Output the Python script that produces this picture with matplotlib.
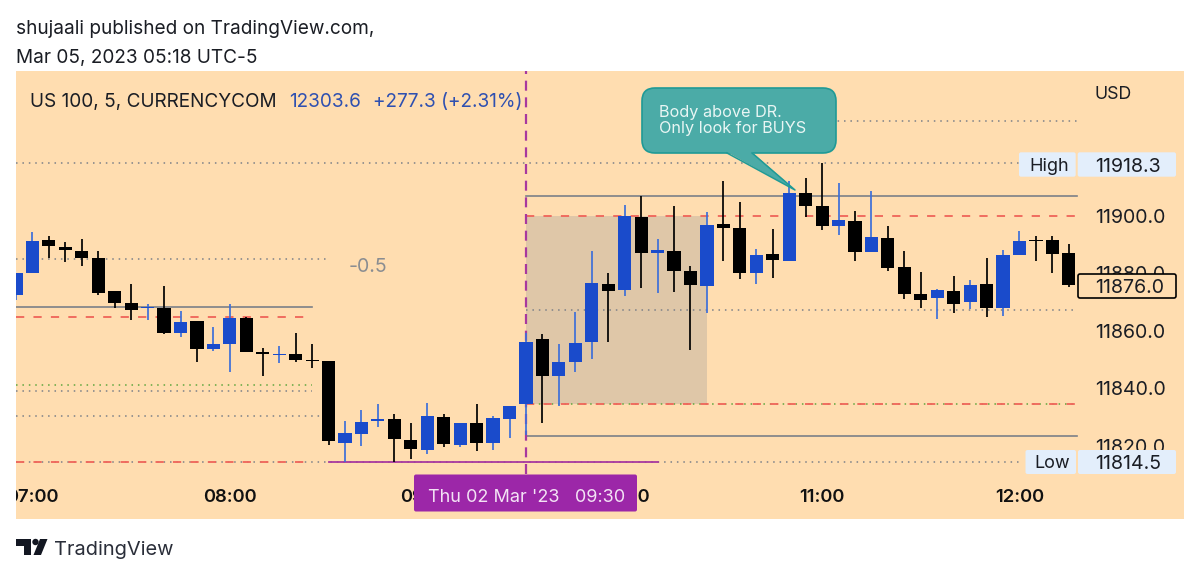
import matplotlib
matplotlib.use("Agg")
import matplotlib.pyplot as plt
from matplotlib.patches import FancyBboxPatch, Polygon, Circle, Rectangle
from matplotlib.transforms import Affine2D

plt.rcParams['font.family'] = ['Inter', 'DejaVu Sans']

# --- data: 5-minute candles, index 0 = 07:00, index -1 = 06:55 -------------------
first_index = -1
opens = [11872.6, 11880.1, 11891.5, 11889.2, 11887.7, 11885.3, 11874.0, 11869.7, 11867.9, 11867.9,
         11859.2, 11863.5, 11853.7, 11855.4, 11864.4, 11852.8, 11851.7, 11852.1, 11849.9, 11849.5,
         11821.0, 11824.1, 11828.6, 11829.3, 11822.1, 11818.5, 11830.1, 11820.5, 11828.1, 11821.0,
         11829.4, 11834.6, 11857.2, 11844.3, 11849.1, 11856.1, 11876.5, 11874.4, 11899.7, 11887.2,
         11887.9, 11881.0, 11875.8, 11897.2, 11895.8, 11880.2, 11886.8, 11884.3, 11907.8, 11903.4,
         11896.6, 11898.3, 11887.4, 11892.2, 11882.2, 11872.8, 11871.6, 11873.8, 11870.2, 11876.4,
         11867.9, 11886.3, 11891.8, 11891.7, 11887.1]
closes = [11880.3, 11891.3, 11889.6, 11888.2, 11885.3, 11873.1, 11869.7, 11867.4, 11868.5, 11859.2,
          11863.2, 11853.7, 11855.5, 11864.4, 11852.8, 11852.0, 11852.1, 11849.8, 11849.6, 11821.6,
          11824.5, 11828.5, 11829.5, 11822.3, 11818.9, 11830.3, 11820.7, 11827.9, 11821.1, 11829.6,
          11833.9, 11856.2, 11844.5, 11849.3, 11855.9, 11876.7, 11873.9, 11899.9, 11887.1, 11888.1,
          11880.9, 11875.9, 11896.9, 11895.9, 11880.2, 11886.5, 11884.8, 11907.8, 11903.6, 11896.6,
          11898.5, 11887.6, 11892.5, 11881.8, 11872.8, 11870.8, 11874.3, 11869.4, 11876.1, 11867.9,
          11886.5, 11891.4, 11891.3, 11886.9, 11876.0]
highs = [11880.3, 11894.3, 11893.0, 11890.9, 11891.9, 11887.7, 11874.0, 11876.4, 11869.3, 11875.8,
         11866.9, 11863.5, 11861.5, 11869.4, 11864.9, 11854.0, 11854.9, 11859.4, 11855.6, 11849.5,
         11828.6, 11832.5, 11834.5, 11831.0, 11828.1, 11835.1, 11831.0, 11827.9, 11834.5, 11830.4,
         11833.9, 11859.4, 11859.0, 11855.6, 11866.7, 11887.8, 11880.1, 11903.8, 11907.0, 11892.0,
         11903.6, 11882.7, 11901.3, 11912.3, 11904.8, 11888.4, 11895.6, 11912.3, 11913.2, 11918.3,
         11911.6, 11901.7, 11908.7, 11896.4, 11887.9, 11880.5, 11874.6, 11879.0, 11877.7, 11885.5,
         11888.3, 11894.9, 11893.1, 11893.1, 11890.4]
lows = [11870.8, 11880.1, 11885.5, 11883.9, 11882.7, 11872.6, 11868.1, 11863.8, 11863.8, 11859.1,
        11857.9, 11849.1, 11853.1, 11845.8, 11852.7, 11844.2, 11848.8, 11849.3, 11847.0, 11820.5,
        11814.5, 11820.0, 11826.5, 11814.5, 11815.4, 11817.2, 11819.5, 11819.8, 11818.3, 11818.6,
        11822.9, 11823.8, 11827.9, 11834.0, 11845.7, 11850.3, 11856.3, 11872.3, 11875.1, 11873.3,
        11873.7, 11853.4, 11866.2, 11884.3, 11878.1, 11876.5, 11878.3, 11884.3, 11899.8, 11895.1,
        11893.5, 11884.3, 11887.4, 11880.9, 11871.1, 11868.0, 11864.0, 11866.4, 11867.7, 11864.9,
        11865.1, 11886.3, 11884.3, 11880.3, 11875.2]

y_ticks = [11820.0, 11840.0, 11860.0, 11880.0, 11900.0]
x_ticks = [0, 12, 24, 36, 48, 60]
x_labels = ['07:00', '08:00', '09:00', '10:00', '11:00', '12:00']

# horizontal levels: (price, start index, end index)
grey_dotted = [(11885.1, -1, 18), (11839.1, -1, 17), (11830.4, -1, 18),
               (11867.3, 30, 63.5), (11933.0, 40, 63.5),
               (11918.3, -1, 60), (11814.5, -1, 60)]
green_dotted = [(11841.2, -1, 17), (11834.6, 30, 63.5)]
grey_solid = [(11868.5, -1, 17), (11907.1, 30, 63.5), (11823.5, 30, 63.5)]
red_dashed = [(11864.9, -1, 16.5), (11814.5, -1, 16.5), (11900.0, 30, 63.5), (11834.6, 30, 63.5)]
range_box = (30, 41, 11834.6, 11900.0)
session_low = (11814.5, 18, 38)
session_index = 30
high_value, low_value, last_value = 11918.3, 11814.5, 11876.0

# --- colours -----------------------------------------------------------------
BG = '#FFDDB0'
BLUE, BLUE_WICK, BLACK = '#1A4BCB', '#3D6FD9', '#000000'
GREY, RED, GREEN, PURPLE = '#7C8088', '#F0685C', '#5FA63E', '#A8389F'
LABEL_BG, INK = '#E3EEFB', '#1A1D24'

fig = plt.figure(figsize=(12, 5.76), dpi=100, facecolor='white')
px = Affine2D().scale(1 / 1200, -1 / 576).translate(0, 1) + fig.transFigure
ax = fig.add_axes([15.5 / 1200, 1 - 519.3 / 576, (1184 - 15.5) / 1200, (519.3 - 71) / 576], facecolor=BG)
ax.set_xlim(-1.03, 70.0)
ax.set_ylim(11794.5, 11950.4)
for s in ax.spines.values():
    s.set_visible(False)

# levels
ax.add_patch(Rectangle((range_box[0], range_box[2]), range_box[1] - range_box[0],
                       range_box[3] - range_box[2], fc='#DFC7A8', ec='none', zorder=1))
for p, a, b in grey_dotted:
    ax.plot([a, b], [p, p], color=GREY, lw=1.1, ls=(0, (1, 3.2)), zorder=1.5)
for p, a, b in green_dotted:
    ax.plot([a, b], [p, p], color=GREEN, lw=1.1, ls=(0, (1, 3.2)), zorder=1.5)
for p, a, b in grey_solid:
    ax.plot([a, b], [p, p], color=GREY, lw=1.2, zorder=1.6)
for p, a, b in red_dashed:
    ax.plot([a, b], [p, p], color=RED, lw=1.35, ls=(0, (4.4, 4.9)), zorder=1.7)
ax.plot([session_low[1], session_low[2]], [session_low[0]] * 2, color=PURPLE, lw=1.3, zorder=1.8)
ax.axvline(session_index, ymin=0.1, ymax=1, color=PURPLE, lw=1.6, ls=(0, (4.5, 3)), zorder=1.9)

# candles
for k, (o, h, l, c) in enumerate(zip(opens, highs, lows, closes)):
    i = first_index + k
    up = c >= o
    ax.vlines(i, l, h, color=BLUE_WICK if up else BLACK, lw=1.25, zorder=3)
    ax.bar(i, abs(c - o), bottom=min(o, c), width=0.8, color=BLUE if up else BLACK, lw=0, zorder=3.2)

# axes labels sitting inside the pane
ax.yaxis.tick_right()
ax.set_yticks(y_ticks)
ax.set_yticklabels([f'{v:.1f}' for v in y_ticks])
ax.tick_params(axis='y', length=0, pad=-63.8, labelsize=14.1, labelcolor=INK)
ax.set_xticks(x_ticks)
ax.set_xticklabels(x_labels, fontweight='semibold')
ax.tick_params(axis='x', length=0, pad=-21.5, labelsize=13.3, labelcolor='#111111')
for t in ax.get_xticklabels():
    t.set_clip_on(True)
    t.set_clip_box(ax.bbox)

def lab(x, y, s, **kw):
    kw.setdefault('color', INK)
    kw.setdefault('fontsize', 14.1)
    kw.setdefault('va', 'center_baseline')
    kw.setdefault('zorder', 12)
    return ax.text(x, y, s, transform=px, **kw)

def box(x0, y0, x1, y1, fc, ec='none', lw=0, z=11):
    ax.add_patch(FancyBboxPatch((x0 + 2, y0 + 2), x1 - x0 - 4, y1 - y0 - 4, boxstyle='round,pad=2,rounding_size=2',
                                fc=fc, ec=ec, lw=lw, transform=px, zorder=z, clip_on=False))

# price labels
box(1019, 152.3, 1075.7, 176.7, LABEL_BG)
box(1077.7, 152.3, 1176, 176.7, LABEL_BG)
lab(1029, 164.5, 'High', fontsize=13)
lab(1095.5, 164.5, f'{high_value:.1f}')
box(1025.5, 450, 1076, 474, LABEL_BG)
box(1078, 450, 1176, 474, LABEL_BG)
lab(1034, 462, 'Low', fontsize=13)
lab(1095.5, 462, f'{low_value:.1f}')
box(1078, 274, 1176, 298, BG, ec='#000000', lw=1.2)
lab(1095.5, 286, f'{last_value:.1f}')
lab(1094, 92.5, 'USD', fontsize=12.8)

# legend row
lab(29.5, 100, 'US 100, 5, CURRENCYCOM', fontsize=13.7)
lab(289, 100, '12303.6', color='#2F50B0', fontsize=13.7)
lab(373, 100, '+277.3 (+2.31%)', color='#2F50B0', fontsize=13.7)
lab(349, 265, '-0.5', color='#8A8D91', fontsize=14)

# callout
ax.add_patch(FancyBboxPatch((654, 100), 170, 41, boxstyle='round,pad=12,rounding_size=13', fc='#4BABA7',
                            ec='#1F9A96', lw=1.2, transform=px, zorder=8))
ax.add_patch(Polygon([(727, 152), (795, 190), (752, 152)], closed=True, fc='#4BABA7', ec='none', transform=px, zorder=8.5))
ax.plot([727, 795, 752], [153, 190, 153], color='#1F9A96', lw=1.1, transform=px, zorder=8.6)
lab(659, 111, 'Body above DR.', color='#E9F6F4', fontsize=11.7, zorder=9)
lab(659, 127, 'Only look for BUYS', color='#E9F6F4', fontsize=11.7, zorder=9)

# crosshair time label
box(414, 474.5, 637, 511.5, '#9C27A8')
lab(428, 497, "Thu 02 Mar '23   09:30", color='#F3E3F5', fontsize=13, va='center', zorder=13)

# header and footer
fig.text(16, 27, 'shujaali published on TradingView.com,', transform=px, color=INK, fontsize=13.7, va='center_baseline')
fig.text(16, 56, 'Mar 05, 2023 05:18 UTC-5', transform=px, color=INK, fontsize=13.7, va='center_baseline')
fig.text(54, 548, 'TradingView', transform=px, color='#2A2E39', fontsize=14.4, va='center_baseline')
for pts in ([(16, 539), (31, 539), (31, 555), (24, 555), (24, 546), (16, 546)],
            [(40, 539), (47.5, 539), (41, 555), (33.5, 555)]):
    fig.add_artist(Polygon(pts, closed=True, fc='#131722', ec='none', transform=px))
fig.add_artist(Circle((35.5, 542), 3.2, fc='#131722', ec='none', transform=px))

fig.savefig('out.png', dpi=100, facecolor='white')
